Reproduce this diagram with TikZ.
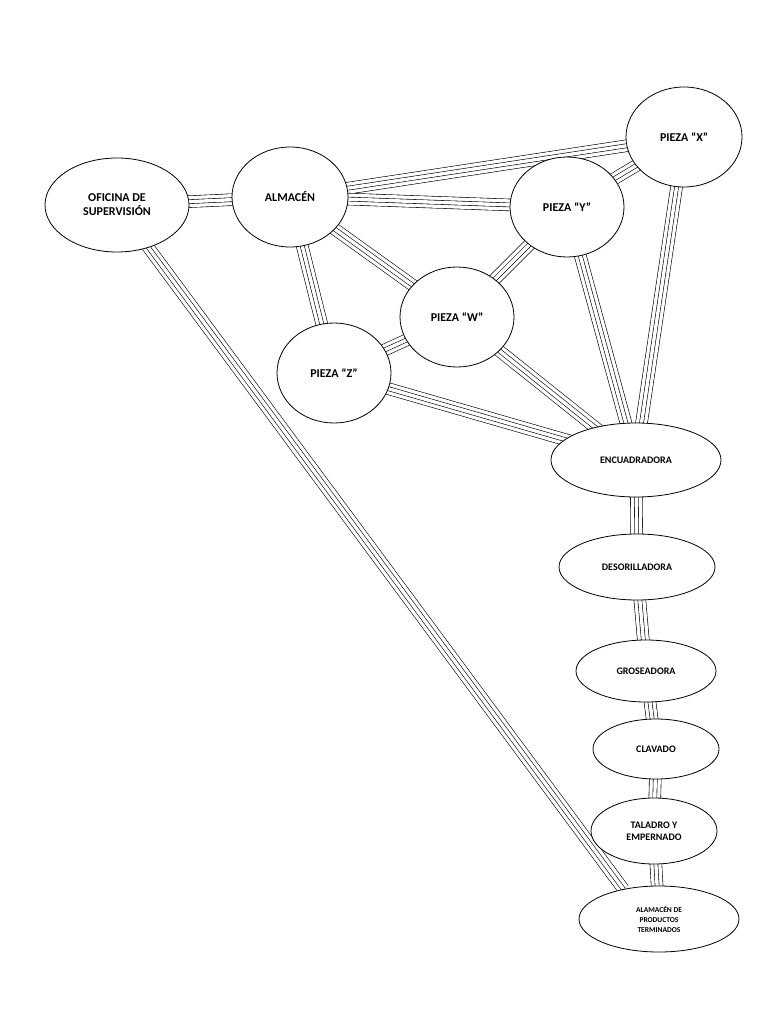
\documentclass[tikz,border=0pt]{standalone}
\usepackage{fontspec}
\setmainfont{Carlito}
\usetikzlibrary{shapes.geometric,backgrounds}
\tikzset{
  area/.style={ellipse, draw, fill=white, thick, inner sep=0pt, align=center, font=\fontsize{12}{14}\selectfont\bfseries},
  small/.style={font=\fontsize{10}{12.5}\selectfont\bfseries},
  link/.style={line width=12.4pt, black,
    postaction={draw, white, line width=11.2pt},
    postaction={draw, black, line width=4.6pt},
    postaction={draw, white, line width=3.4pt}},
}
\begin{document}
\begin{tikzpicture}[x=1pt, y=-1pt]
\useasboundingbox (0,0) rectangle (768,1024);
% areas
\node[area, minimum width=144, minimum height=94] (ofi) at (117,205) {OFICINA DE\\SUPERVISIÓN};
\node[area, minimum width=116, minimum height=100] (alm) at (290,197) {ALMACÉN};
\node[area, minimum width=116, minimum height=100] (px) at (684,137) {PIEZA “X”};
\node[area, minimum width=114, minimum height=100] (py) at (567,207) {PIEZA “Y”};
\node[area, minimum width=114, minimum height=100] (pw) at (457,317) {PIEZA “W”};
\node[area, minimum width=114, minimum height=100] (pz) at (334,373) {PIEZA “Z”};
\node[area, small, minimum width=170, minimum height=74] (enc) at (636,460) {ENCUADRADORA};
\node[area, small, minimum width=156, minimum height=66] (des) at (637,567) {DESORILLADORA};
\node[area, small, minimum width=140, minimum height=62] (gro) at (646,671) {GROSEADORA};
\node[area, small, minimum width=126, minimum height=60] (cla) at (656,749) {CLAVADO};
\node[area, small, minimum width=126, minimum height=66] (tal) at (654,831) {TALADRO Y\\EMPERNADO};
\node[area, minimum width=160, minimum height=66, font=\fontsize{7.5}{10}\selectfont\bfseries] (ter) at (659,919) {ALAMACÉN DE\\PRODUCTOS\\TERMINADOS};
% links
\begin{scope}[on background layer]
\foreach \a/\b in {ofi/alm, alm/px, alm/py, alm/pw, alm/pz, px/py, px/enc, py/pw, py/enc,
  pw/pz, pw/enc, pz/enc, enc/des, des/gro, gro/cla, cla/tal, tal/ter}
  \draw[link] (\a.center) -- (\b.center);
\draw[link] (ofi.center) -- (ter.140);
\end{scope}
\end{tikzpicture}
\end{document}
